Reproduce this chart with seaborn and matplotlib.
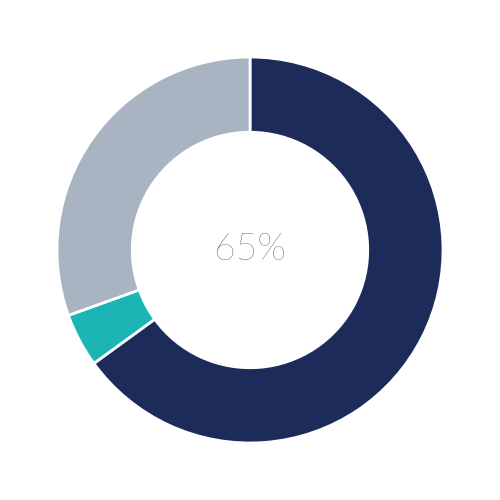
import matplotlib
matplotlib.use('Agg')
import matplotlib.pyplot as plt
import seaborn as sns

labels = ['Main', 'Teal', 'Rest']
values = [65, 4.5, 30.5]
colors = ['#1c2b5a', '#1bb5b5', '#a9b4c2']
center_text = '65%'

sns.set_theme(style='white')
plt.rcParams['font.family'] = ['Lato', 'DejaVu Sans']

fig = plt.figure(figsize=(5, 5), dpi=100)
ax = fig.add_axes([0, 0, 1, 1])
ax.pie(values, colors=colors, startangle=90, counterclock=False, radius=1,
       wedgeprops=dict(width=0.39, edgecolor='white', linewidth=2))
ax.text(0, 0, center_text, ha='center', va='center', fontsize=27,
        color='#3a3f48', fontweight='light')
lim = 250 / 193
ax.set_xlim(-lim, lim)
ax.set_ylim(-lim, lim)
ax.set_aspect('equal')
ax.axis('off')
fig.savefig('out.png', dpi=100, facecolor='white')
